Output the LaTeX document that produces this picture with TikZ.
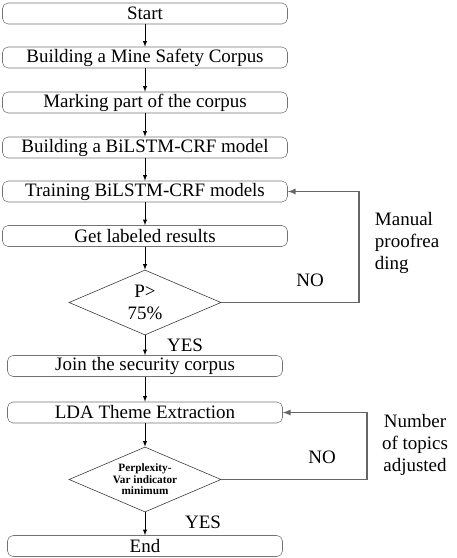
\documentclass[tikz,border=0pt]{standalone}
\usepackage{fontspec}
\setmainfont{Liberation Serif}
\usepackage{tikz}
\usetikzlibrary{arrows,shapes.geometric}

\begin{document}
\begin{tikzpicture}[
    font=\rmfamily\fontsize{13.5}{15.6}\selectfont,
    box/.style={draw=gray!90!black, rounded corners=4pt, inner sep=0pt,
      minimum width=7.125cm, minimum height=0.525cm},
    lbox/.style={box, minimum width=6.875cm},
    test/.style={draw=black!80, diamond, aspect=2.32, inner sep=0pt,
      minimum width=3.8cm, minimum height=1.625cm, align=center},
    flow/.style={-latex, black},
    back/.style={-latex, draw=gray!80!black, line width=0.9pt}]
    \useasboundingbox (0,0) rectangle (11.4,-13.95);
    \draw
    (3.625,-0.3375) node[box](start) {Start}
    (3.625,-1.4375) node[box](corpus) {Building a Mine Safety Corpus}
    (3.625,-2.5625) node[box](mark) {Marking part of the corpus}
    (3.625,-3.6875) node[box](model) {Building a BiLSTM-CRF model}
    (3.625,-4.7875) node[box](train) {Training BiLSTM-CRF models}
    (3.625,-5.9) node[box](result) {Get labeled results}
    (3.625,-7.5625) node[test](prec) {P>\\75\%}
    (3.625,-9.15) node[lbox](join) {Join the security corpus}
    (3.625,-10.3125) node[lbox](lda) {LDA Theme Extraction}
    (3.625,-11.9875) node[test, font=\rmfamily\bfseries\fontsize{8}{8.2}\selectfont](perp)
      {Perplexity-\\Var indicator\\minimum}
    (3.625,-13.65) node[lbox](end) {End};
    \draw[flow]
    (start) edge (corpus) (corpus) edge (mark) (mark) edge (model)
    (model) edge (train) (train) edge (result) (result) edge (prec)
    (prec) edge (join) (join) edge (lda) (lda) edge (perp)
    (perp) edge (end);
    \draw[back] (prec.east) -| (8.975,-4.7875) -- (train.east);
    \draw[back] (perp.east) -| (9.175,-10.3125) -- (lda.east);
    \draw
    (7.75,-7.0) node(no1) {NO}
    (4.625,-8.625) node(yes1) {YES}
    (9.25,-6.075) node[anchor=west, align=left](manual) {Manual\\proofrea\\ding}
    (8.05,-11.425) node(no2) {NO}
    (5.075,-13.05) node(yes2) {YES}
    (10.375,-11.125) node[align=center](adjust) {Number\\of topics\\adjusted};
\end{tikzpicture}
\end{document}
